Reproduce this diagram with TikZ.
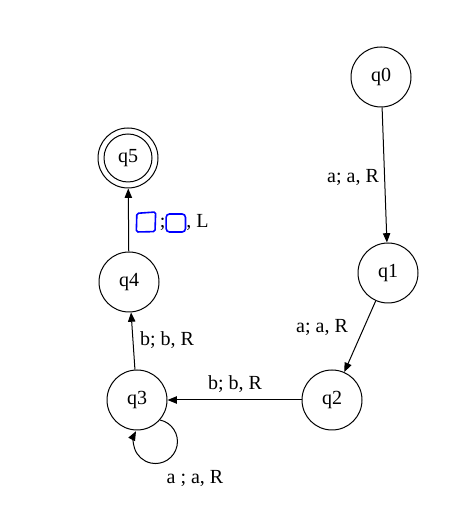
\documentclass[tikz,border=0pt]{standalone}
\usepackage{fontspec}
\setmainfont{Liberation Serif}
\usetikzlibrary{arrows.meta}

\tikzset{
	state/.style={draw, circle, line width=0.75pt, minimum size=45pt, inner sep=0pt},
	trans/.style={-{Triangle[length=7pt,width=5.5pt]}, line width=0.75pt},
	lbl/.style={inner sep=1pt}
}
% hand drawn blank symbols of the tape
\newcommand{\blankA}{\tikz[baseline=3.5pt]\draw[blue, line width=1.2pt, rounded corners=1.2pt] (0,0) -- (0.4pt,14pt) -- (14.5pt,15pt) -- (14pt,0.3pt) -- cycle;}
\newcommand{\blankB}{\tikz[baseline=3.5pt]\draw[blue, line width=1.2pt, rounded corners=2.5pt] (0,0) rectangle (14.5pt,13.5pt);}

\begin{document}
\begin{tikzpicture}[x=0.75pt, y=0.75pt, font=\fontsize{15}{17}\selectfont]
		\useasboundingbox (0,0) rectangle (475,523);
		% states
		\foreach \n/\x/\y in {q0/381/446, q1/388/250, q2/332/123, q3/137/123, q4/129/241, q5/128/365}
		{
			\node[state] (\n) at (\x,\y) {\n};
		}
		% accepting state
		\draw[line width=0.75pt] (q5.center) circle (18pt);
		% transitions
		\draw[trans] (q0) -- (q1);
		\draw[trans] (q1) -- (q2);
		\draw[trans] (q2) -- (q3);
		\draw[trans] (q3) -- (q4);
		\draw[trans] (q4) -- (q5);
		% loop on q3
		\draw[trans] (q3.-41) arc[start angle=78, end angle=-208, radius=16.5pt];
		% labels of the transitions
		\node[lbl] (l01) at (353,346) {a; a, R};
		\node[lbl] (l12) at (322,196) {a; a, R};
		\node[lbl] (l23) at (235,139) {b; b, R};
		\node[lbl] (l34) at (167,183) {b; b, R};
		\node[lbl] (l45) at (172,301) {\blankA\,;\blankB, L};
		\node[lbl] (l33) at (195,45) {a ; a, R};
	\end{tikzpicture}
\end{document}
